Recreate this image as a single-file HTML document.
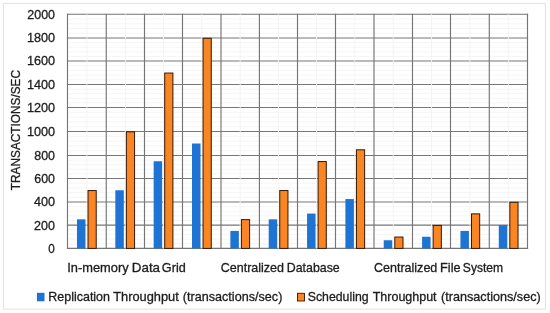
<!DOCTYPE html>
<html><head><meta charset="utf-8"><title>Throughput chart</title>
<style>html,body{margin:0;padding:0;background:#fff}svg text{white-space:pre}</style></head>
<body>
<svg width="550" height="313" viewBox="0 0 550 313" style="display:block">
<rect x="0" y="0" width="550" height="313" fill="#ffffff"/>
<rect x="3.4" y="3.4" width="542" height="305.8" fill="#ffffff" stroke="#e4e4e4" stroke-width="1.1"/>
<path d="M66.90 14.25H528.10M66.90 38.00H528.10M66.90 61.00H528.10M66.90 84.50H528.10M66.90 107.50H528.10M66.90 131.50H528.10M66.90 155.50H528.10M66.90 178.50H528.10M66.90 202.00H528.10M66.90 225.10H528.10M66.90 248.40H528.10" stroke="#767676" stroke-width="1.15" fill="none"/>
<path d="M68.50 19.00H527.50M68.50 23.75H527.50M68.50 28.50H527.50M68.50 33.25H527.50M68.50 42.60H527.50M68.50 47.20H527.50M68.50 51.80H527.50M68.50 56.40H527.50M68.50 65.70H527.50M68.50 70.40H527.50M68.50 75.10H527.50M68.50 79.80H527.50M68.50 89.10H527.50M68.50 93.70H527.50M68.50 98.30H527.50M68.50 102.90H527.50M68.50 112.30H527.50M68.50 117.10H527.50M68.50 121.90H527.50M68.50 126.70H527.50M68.50 136.30H527.50M68.50 141.10H527.50M68.50 145.90H527.50M68.50 150.70H527.50M68.50 160.10H527.50M68.50 164.70H527.50M68.50 169.30H527.50M68.50 173.90H527.50M68.50 183.20H527.50M68.50 187.90H527.50M68.50 192.60H527.50M68.50 197.30H527.50M68.50 206.62H527.50M68.50 211.24H527.50M68.50 215.86H527.50M68.50 220.48H527.50M68.50 229.76H527.50M68.50 234.42H527.50M68.50 239.08H527.50M68.50 243.74H527.50" stroke="#f3f3f3" stroke-width="0.8" fill="none"/>
<path d="M86.88 14.25V248.40M125.38 14.25V248.40M163.50 14.25V248.40M201.75 14.25V248.40M240.20 14.25V248.40M278.45 14.25V248.40M316.50 14.25V248.40M354.75 14.25V248.40M393.25 14.25V248.40M431.50 14.25V248.40M469.90 14.25V248.40M508.40 14.25V248.40" stroke="#f3f3f3" stroke-width="0.9" fill="none"/>
<path d="M67.50 13.65V249.00M106.25 13.65V249.00M144.50 13.65V249.00M182.50 13.65V249.00M221.00 13.65V249.00M259.40 13.65V249.00M297.50 13.65V249.00M335.50 13.65V249.00M374.00 13.65V249.00M412.50 13.65V249.00M450.50 13.65V249.00M489.30 13.65V249.00M527.50 13.65V249.00" stroke="#767676" stroke-width="1.15" fill="none"/>
<rect x="76.97" y="219.32" width="8.5" height="29.08" fill="#1f74d3"/>
<rect x="88.02" y="190.55" width="8.2" height="57.85" fill="#f98524" stroke="#351803" stroke-width="1.0"/>
<rect x="115.32" y="190.25" width="8.5" height="58.15" fill="#1f74d3"/>
<rect x="126.37" y="131.80" width="8.2" height="116.60" fill="#f98524" stroke="#351803" stroke-width="1.0"/>
<rect x="153.66" y="161.25" width="8.5" height="87.15" fill="#1f74d3"/>
<rect x="164.71" y="73.05" width="8.2" height="175.35" fill="#f98524" stroke="#351803" stroke-width="1.0"/>
<rect x="192.01" y="143.50" width="8.5" height="104.90" fill="#1f74d3"/>
<rect x="203.06" y="38.30" width="8.2" height="210.10" fill="#f98524" stroke="#351803" stroke-width="1.0"/>
<rect x="230.36" y="230.93" width="8.5" height="17.47" fill="#1f74d3"/>
<rect x="241.41" y="219.62" width="8.2" height="28.78" fill="#f98524" stroke="#351803" stroke-width="1.0"/>
<rect x="268.70" y="219.32" width="8.5" height="29.08" fill="#1f74d3"/>
<rect x="279.75" y="190.55" width="8.2" height="57.85" fill="#f98524" stroke="#351803" stroke-width="1.0"/>
<rect x="307.05" y="213.55" width="8.5" height="34.85" fill="#1f74d3"/>
<rect x="318.10" y="161.55" width="8.2" height="86.85" fill="#f98524" stroke="#351803" stroke-width="1.0"/>
<rect x="345.39" y="199.06" width="8.5" height="49.34" fill="#1f74d3"/>
<rect x="356.44" y="149.80" width="8.2" height="98.60" fill="#f98524" stroke="#351803" stroke-width="1.0"/>
<rect x="383.74" y="240.25" width="8.5" height="8.16" fill="#1f74d3"/>
<rect x="394.79" y="237.05" width="8.2" height="11.35" fill="#f98524" stroke="#351803" stroke-width="1.0"/>
<rect x="422.09" y="236.75" width="8.5" height="11.65" fill="#1f74d3"/>
<rect x="433.14" y="225.40" width="8.2" height="23.00" fill="#f98524" stroke="#351803" stroke-width="1.0"/>
<rect x="460.43" y="230.93" width="8.5" height="17.47" fill="#1f74d3"/>
<rect x="471.48" y="213.85" width="8.2" height="34.55" fill="#f98524" stroke="#351803" stroke-width="1.0"/>
<rect x="498.78" y="225.10" width="8.5" height="23.30" fill="#1f74d3"/>
<rect x="509.83" y="202.30" width="8.2" height="46.10" fill="#f98524" stroke="#351803" stroke-width="1.0"/>
<text x="48.31" y="252.80" font-family="Liberation Sans, sans-serif" font-size="12.8" fill="#1c1c1c" stroke="#1c1c1c" stroke-width="0.3" textLength="6.50" lengthAdjust="spacingAndGlyphs">0</text>
<text x="34.09" y="229.50" font-family="Liberation Sans, sans-serif" font-size="12.8" fill="#1c1c1c" stroke="#1c1c1c" stroke-width="0.3" textLength="20.83" lengthAdjust="spacingAndGlyphs">200</text>
<text x="33.95" y="206.40" font-family="Liberation Sans, sans-serif" font-size="12.8" fill="#1c1c1c" stroke="#1c1c1c" stroke-width="0.3" textLength="21.14" lengthAdjust="spacingAndGlyphs">400</text>
<text x="34.26" y="182.90" font-family="Liberation Sans, sans-serif" font-size="12.8" fill="#1c1c1c" stroke="#1c1c1c" stroke-width="0.3" textLength="20.67" lengthAdjust="spacingAndGlyphs">600</text>
<text x="34.24" y="159.90" font-family="Liberation Sans, sans-serif" font-size="12.8" fill="#1c1c1c" stroke="#1c1c1c" stroke-width="0.3" textLength="20.71" lengthAdjust="spacingAndGlyphs">800</text>
<text x="26.91" y="135.90" font-family="Liberation Sans, sans-serif" font-size="12.8" fill="#1c1c1c" stroke="#1c1c1c" stroke-width="0.3" textLength="28.19" lengthAdjust="spacingAndGlyphs">1000</text>
<text x="26.91" y="111.90" font-family="Liberation Sans, sans-serif" font-size="12.8" fill="#1c1c1c" stroke="#1c1c1c" stroke-width="0.3" textLength="28.19" lengthAdjust="spacingAndGlyphs">1200</text>
<text x="26.91" y="88.90" font-family="Liberation Sans, sans-serif" font-size="12.8" fill="#1c1c1c" stroke="#1c1c1c" stroke-width="0.3" textLength="28.19" lengthAdjust="spacingAndGlyphs">1400</text>
<text x="26.91" y="65.40" font-family="Liberation Sans, sans-serif" font-size="12.8" fill="#1c1c1c" stroke="#1c1c1c" stroke-width="0.3" textLength="28.19" lengthAdjust="spacingAndGlyphs">1600</text>
<text x="26.91" y="42.40" font-family="Liberation Sans, sans-serif" font-size="12.8" fill="#1c1c1c" stroke="#1c1c1c" stroke-width="0.3" textLength="28.19" lengthAdjust="spacingAndGlyphs">1800</text>
<text x="27.29" y="18.65" font-family="Liberation Sans, sans-serif" font-size="12.8" fill="#1c1c1c" stroke="#1c1c1c" stroke-width="0.3" textLength="27.70" lengthAdjust="spacingAndGlyphs">2000</text>
<text x="67.27" y="272.00" font-family="Liberation Sans, sans-serif" font-size="12.8" fill="#1c1c1c" stroke="#1c1c1c" stroke-width="0.3" textLength="61.36" lengthAdjust="spacingAndGlyphs">In-memory</text>
<text x="131.75" y="272.00" font-family="Liberation Sans, sans-serif" font-size="12.8" fill="#1c1c1c" stroke="#1c1c1c" stroke-width="0.3" textLength="28.30" lengthAdjust="spacingAndGlyphs">Data</text>
<text x="161.85" y="272.00" font-family="Liberation Sans, sans-serif" font-size="12.8" fill="#1c1c1c" stroke="#1c1c1c" stroke-width="0.3" textLength="23.89" lengthAdjust="spacingAndGlyphs">Grid</text>
<text x="220.74" y="272.00" font-family="Liberation Sans, sans-serif" font-size="12.8" fill="#1c1c1c" stroke="#1c1c1c" stroke-width="0.3" textLength="63.26" lengthAdjust="spacingAndGlyphs">Centralized</text>
<text x="286.77" y="272.00" font-family="Liberation Sans, sans-serif" font-size="12.8" fill="#1c1c1c" stroke="#1c1c1c" stroke-width="0.3" textLength="52.98" lengthAdjust="spacingAndGlyphs">Database</text>
<text x="374.04" y="272.00" font-family="Liberation Sans, sans-serif" font-size="12.8" fill="#1c1c1c" stroke="#1c1c1c" stroke-width="0.3" textLength="63.26" lengthAdjust="spacingAndGlyphs">Centralized</text>
<text x="440.10" y="272.00" font-family="Liberation Sans, sans-serif" font-size="12.8" fill="#1c1c1c" stroke="#1c1c1c" stroke-width="0.3" textLength="20.40" lengthAdjust="spacingAndGlyphs">File</text>
<text x="462.86" y="272.00" font-family="Liberation Sans, sans-serif" font-size="12.8" fill="#1c1c1c" stroke="#1c1c1c" stroke-width="0.3" textLength="40.27" lengthAdjust="spacingAndGlyphs">System</text>
<text x="48.32" y="301.40" font-family="Liberation Sans, sans-serif" font-size="12.8" fill="#1c1c1c" stroke="#1c1c1c" stroke-width="0.3" textLength="61.68" lengthAdjust="spacingAndGlyphs">Replication</text>
<text x="113.23" y="301.40" font-family="Liberation Sans, sans-serif" font-size="12.8" fill="#1c1c1c" stroke="#1c1c1c" stroke-width="0.3" textLength="65.57" lengthAdjust="spacingAndGlyphs">Throughput</text>
<text x="182.81" y="301.40" font-family="Liberation Sans, sans-serif" font-size="12.8" fill="#1c1c1c" stroke="#1c1c1c" stroke-width="0.3" textLength="99.55" lengthAdjust="spacingAndGlyphs">(transactions/sec)</text>
<text x="307.75" y="301.40" font-family="Liberation Sans, sans-serif" font-size="12.8" fill="#1c1c1c" stroke="#1c1c1c" stroke-width="0.3" textLength="60.86" lengthAdjust="spacingAndGlyphs">Scheduling</text>
<text x="372.73" y="301.40" font-family="Liberation Sans, sans-serif" font-size="12.8" fill="#1c1c1c" stroke="#1c1c1c" stroke-width="0.3" textLength="63.87" lengthAdjust="spacingAndGlyphs">Throughput</text>
<text x="441.11" y="301.40" font-family="Liberation Sans, sans-serif" font-size="12.8" fill="#1c1c1c" stroke="#1c1c1c" stroke-width="0.3" textLength="99.55" lengthAdjust="spacingAndGlyphs">(transactions/sec)</text>
<text transform="translate(20.1 189.4) rotate(-90)" x="-0.78" y="0" font-family="Liberation Sans, sans-serif" font-size="12.8" fill="#1c1c1c" stroke="#1c1c1c" stroke-width="0.3" textLength="120.14" lengthAdjust="spacingAndGlyphs">TRANSACTIONS/SEC</text>
<rect x="36.9" y="292.8" width="7.6" height="8.5" fill="#1f74d3"/>
<rect x="297.5" y="293.3" width="7.0" height="7.7" fill="#f98524" stroke="#351803" stroke-width="0.9"/>
</svg>
</body></html>
